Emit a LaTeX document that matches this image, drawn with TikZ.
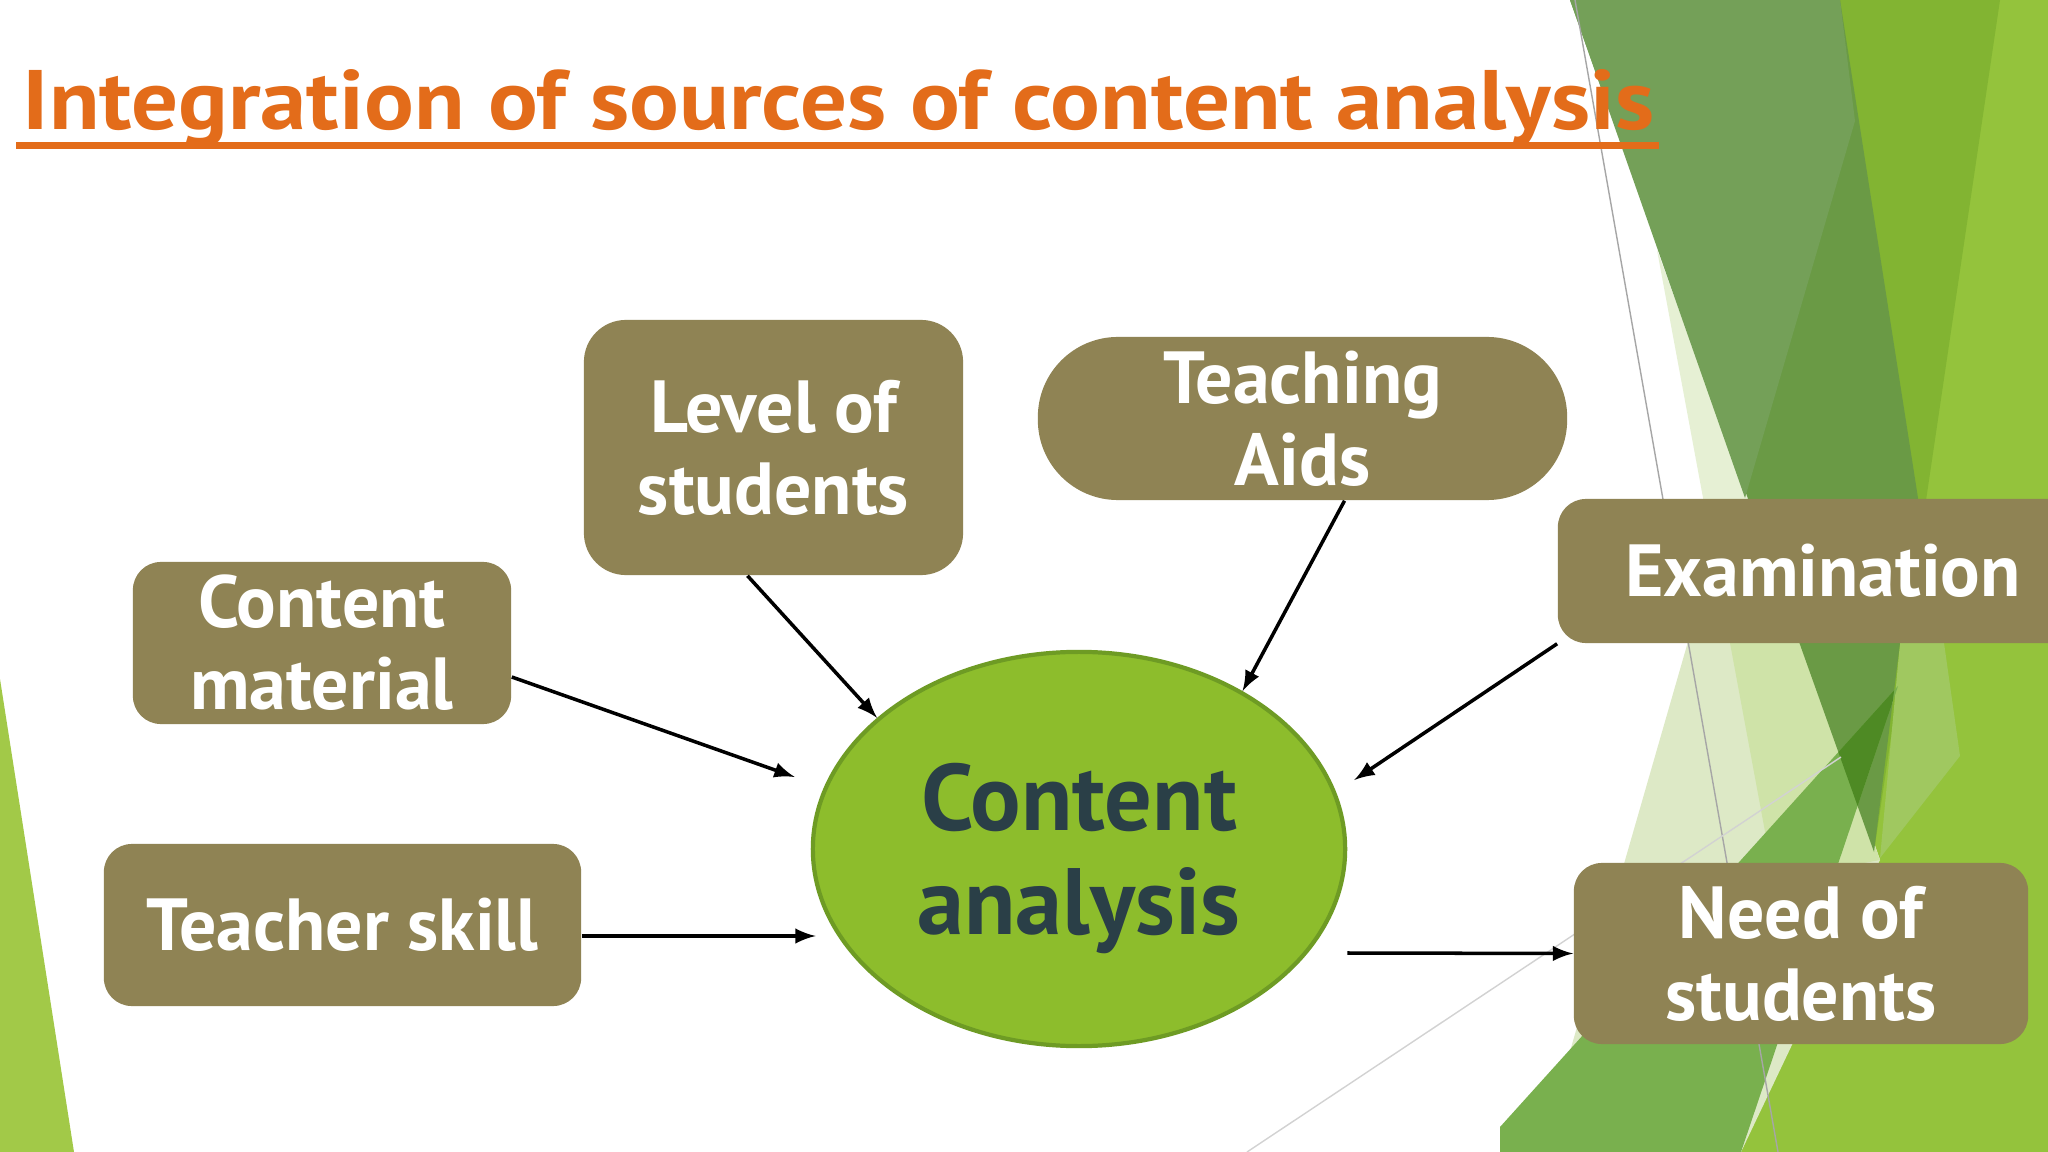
\documentclass[tikz,border=0pt]{standalone}
\usepackage{fontspec}
\setmainfont{PT Sans}
\newfontfamily\headfont[FakeStretch=1.10]{PT Sans}
\usetikzlibrary{arrows,shapes,positioning,calc}

\definecolor{boxbrown}{RGB}{143,131,84}
\definecolor{titleorange}{RGB}{227,108,26}
\definecolor{ovalgreen}{RGB}{141,189,44}
\definecolor{ovalline}{RGB}{110,155,36}
\definecolor{ovaltext}{RGB}{42,63,71}
\definecolor{leafleft}{RGB}{162,201,72}
\definecolor{leafbase}{RGB}{148,195,60}
\definecolor{leafbright}{RGB}{130,180,50}
\definecolor{leaflight}{RGB}{160,200,96}
\definecolor{paleone}{RGB}{230,240,212}
\definecolor{paletwo}{RGB}{221,233,198}
\definecolor{palemix}{RGB}{207,227,168}
\definecolor{leafdark}{RGB}{106,154,69}
\definecolor{leafdarktop}{RGB}{116,160,88}
\definecolor{leafmid}{RGB}{121,176,78}
\definecolor{leafdeep}{RGB}{78,138,36}

\begin{document}
\begin{tikzpicture}[x=0.01cm, y=-0.01cm,
    source/.style={rectangle, rounded corners=0.28cm, fill=boxbrown, text=white,
      align=center, inner sep=0pt, font=\fontsize{21}{23.3}\selectfont\bfseries},
    link/.style={-latex, line width=1pt}]
    \useasboundingbox (0,0) rectangle (2048,1152);
    \clip (0,0) rectangle (2048,1152);
    \fill[white] (0,0) rectangle (2048,1152);

    % green facets
    \fill[leafleft] (0,679) -- (74,1152) -- (0,1152) -- cycle;
    \fill[leafbase] (1837,0) -- (2048,0) -- (2048,1152) -- (1741,1152) -- (1874,852) -- cycle;
    \fill[leafbright] (1837,0) -- (2000,0) -- (1874,852) -- cycle;
    \fill[leaflight] (1900,643) -- (1944,643) -- (1960,756) -- (1880,858) -- cycle;
    \fill[paleone] (1657,250) -- (1774,880) -- (1880,860) -- cycle;
    \fill[paletwo] (1700,600) -- (1790,600) -- (1880,860) -- (1741,1152) -- (1541,1152) -- cycle;
    \begin{scope}
      \clip (1700,600) -- (1790,600) -- (1880,860) -- (1741,1152) -- (1541,1152) -- cycle;
      \fill[palemix] (1657,250) -- (1774,880) -- (1880,860) -- cycle;
    \end{scope}
    \fill[leafdark] (1570,0) -- (1840,0) -- (1918,498) -- (1874,852) -- cycle;
    \fill[leafdarktop] (1570,0) -- (1840,0) -- (1855,121) -- (1745,498) -- cycle;
    \fill[leafmid] (1898,686) -- (1500,1127) -- (1500,1152) -- (1741,1152) -- cycle;
    \begin{scope}
      \clip (1898,686) -- (1500,1127) -- (1500,1152) -- (1741,1152) -- cycle;
      \fill[leafdeep] (1570,0) -- (1840,0) -- (1918,498) -- (1874,852) -- cycle;
    \end{scope}
    \draw[gray!70, line width=0.4pt] (1575,0) -- (1778,1152);
    \draw[gray!35, line width=0.4pt] (1841,757) -- (1247,1152);

    \node[anchor=base west, inner sep=0pt, text=titleorange,
      font=\headfont\bfseries\fontsize{24}{28}\selectfont] (title) at (22,130) {Integration of sources of content analysis};
    \fill[titleorange] ($(title.base west)+(-6,12)$) rectangle ($(title.base east)+(4,19)$);

    \node[source, minimum width=3.79cm, minimum height=2.55cm, rounded corners=0.42cm] (level) at (773.5,447.5) {Level of\\students};
    \node[source, minimum width=5.29cm, minimum height=1.63cm, rounded corners=0.8cm] (aids) at (1302.5,418.5) {Teaching\\Aids};
    \node[source, minimum width=3.78cm, minimum height=1.62cm] (material) at (322,643) {Content\\material};
    \node[source, minimum width=4.77cm, minimum height=1.62cm] (skill) at (342.5,925) {Teacher skill};
    \node[source, minimum width=5.30cm, minimum height=1.44cm] (exam) at (1823,571) {Examination};
    \node[source, minimum width=4.54cm, minimum height=1.81cm] (need) at (1801,953.5) {Need of\\students};
    \node[ellipse, draw=ovalline, line width=1.2pt, fill=ovalgreen, minimum width=5.32cm, minimum height=3.94cm,
      inner sep=0pt, text height=54pt, text=ovaltext, align=center, font=\fontsize{26.8}{29.5}\selectfont\bfseries] (ca) at (1079,849) {Content\\analysis};

    \draw[link] ($(level.south)+(-26,0)$) -- (ca.147);
    \draw[link] ($(aids.south)+(42,0)$) -- (ca.44);
    \draw[link] ($(material.east)+(0,34)$) -- ($(ca.west)+(-16,-72)$);
    \draw[link] ($(skill.east)+(0,11)$) -- ($(ca.west)+(5,87)$);
    \draw[link] (exam.south west) -- ($(ca.east)+(7,-69)$);
    \draw[link] ($(ca.east)+(0,104)$) -- (need.west);
\end{tikzpicture}
\end{document}
